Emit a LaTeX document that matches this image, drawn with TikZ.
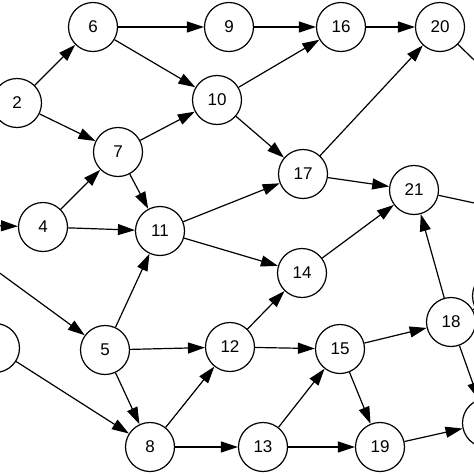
\documentclass[tikz,border=0pt]{standalone}
\usepackage{fontspec}
\setmainfont{Liberation Sans}
\usetikzlibrary{arrows.meta}
\begin{document}
\begin{tikzpicture}[x=1pt,y=-1pt,
  vert/.style={circle,draw,line width=1.2pt,minimum size=49pt,inner sep=0pt,
    font=\fontsize{17}{19}\selectfont},
  arc/.style={line width=1.2pt,-{Triangle[length=17pt,width=11pt]}},
  plain/.style={line width=1.2pt}]
\useasboundingbox (0,0) rectangle (474,474);
\clip (0,0) rectangle (474,474);
\node[vert] (n2) at (17,103) {2};
\node[vert] (n6) at (93,27) {6};
\node[vert] (n9) at (229,27) {9};
\node[vert] (n16) at (341,27) {16};
\node[vert] (n20) at (440,27) {20};
\node[vert] (n10) at (217,100) {10};
\node[vert] (n7) at (118,152) {7};
\node[vert] (n17) at (303,174) {17};
\node[vert] (n21) at (414,190) {21};
\node[vert] (n4) at (43,227) {4};
\node[vert] (n11) at (160,231) {11};
\node[vert] (n14) at (302,273) {14};
\node[vert] (n5) at (105,350) {5};
\node[vert] (n12) at (230,347) {12};
\node[vert] (n15) at (340,349) {15};
\node[vert] (n18) at (451,322) {18};
\node[vert] (n8) at (150,447) {8};
\node[vert] (n13) at (263,447) {13};
\node[vert] (n19) at (380,447) {19};
\node[vert] (r1) at (487,423) {};
\node[vert] (r2) at (497,296) {};
\node[vert] (l1) at (-5,348) {};
\coordinate (o20) at (500,85);
\coordinate (o21) at (530,215);
\coordinate (i4) at (-60,224);
\coordinate (i5) at (-40,244);
\draw[arc] (n2) -- (n6);
\draw[arc] (n2) -- (n7);
\draw[arc] (n6) -- (n9);
\draw[arc] (n6) -- (n10);
\draw[arc] (n9) -- (n16);
\draw[arc] (n10) -- (n16);
\draw[arc] (n7) -- (n10);
\draw[arc] (n10) -- (n17);
\draw[arc] (n16) -- (n20);
\draw[arc] (n17) -- (n20);
\draw[arc] (n20) -- (o20);
\draw[arc] (n7) -- (n11);
\draw[arc] (n4) -- (n7);
\draw[arc] (n4) -- (n11);
\draw[arc] (i4) -- (n4);
\draw[arc] (i5) -- (n5);
\draw[arc] (n5) -- (n11);
\draw[arc] (n11) -- (n17);
\draw[arc] (n11) -- (n14);
\draw[arc] (n17) -- (n21);
\draw[arc] (n14) -- (n21);
\draw[arc] (n21) -- (o21);
\draw[arc] (n18) -- (n21);
\draw[arc] (n5) -- (n12);
\draw[arc] (n5) -- (n8);
\draw[arc] (l1) -- (n8);
\draw[arc] (n8) -- (n12);
\draw[arc] (n8) -- (n13);
\draw[arc] (n12) -- (n14);
\draw[arc] (n12) -- (n15);
\draw[arc] (n13) -- (n15);
\draw[arc] (n13) -- (n19);
\draw[arc] (n15) -- (n18);
\draw[arc] (n15) -- (n19);
\draw[arc] (n19) -- (r1);
\draw[arc] (n18) -- (r1);
\draw[plain] (n18) -- (r2);
\end{tikzpicture}
\end{document}
